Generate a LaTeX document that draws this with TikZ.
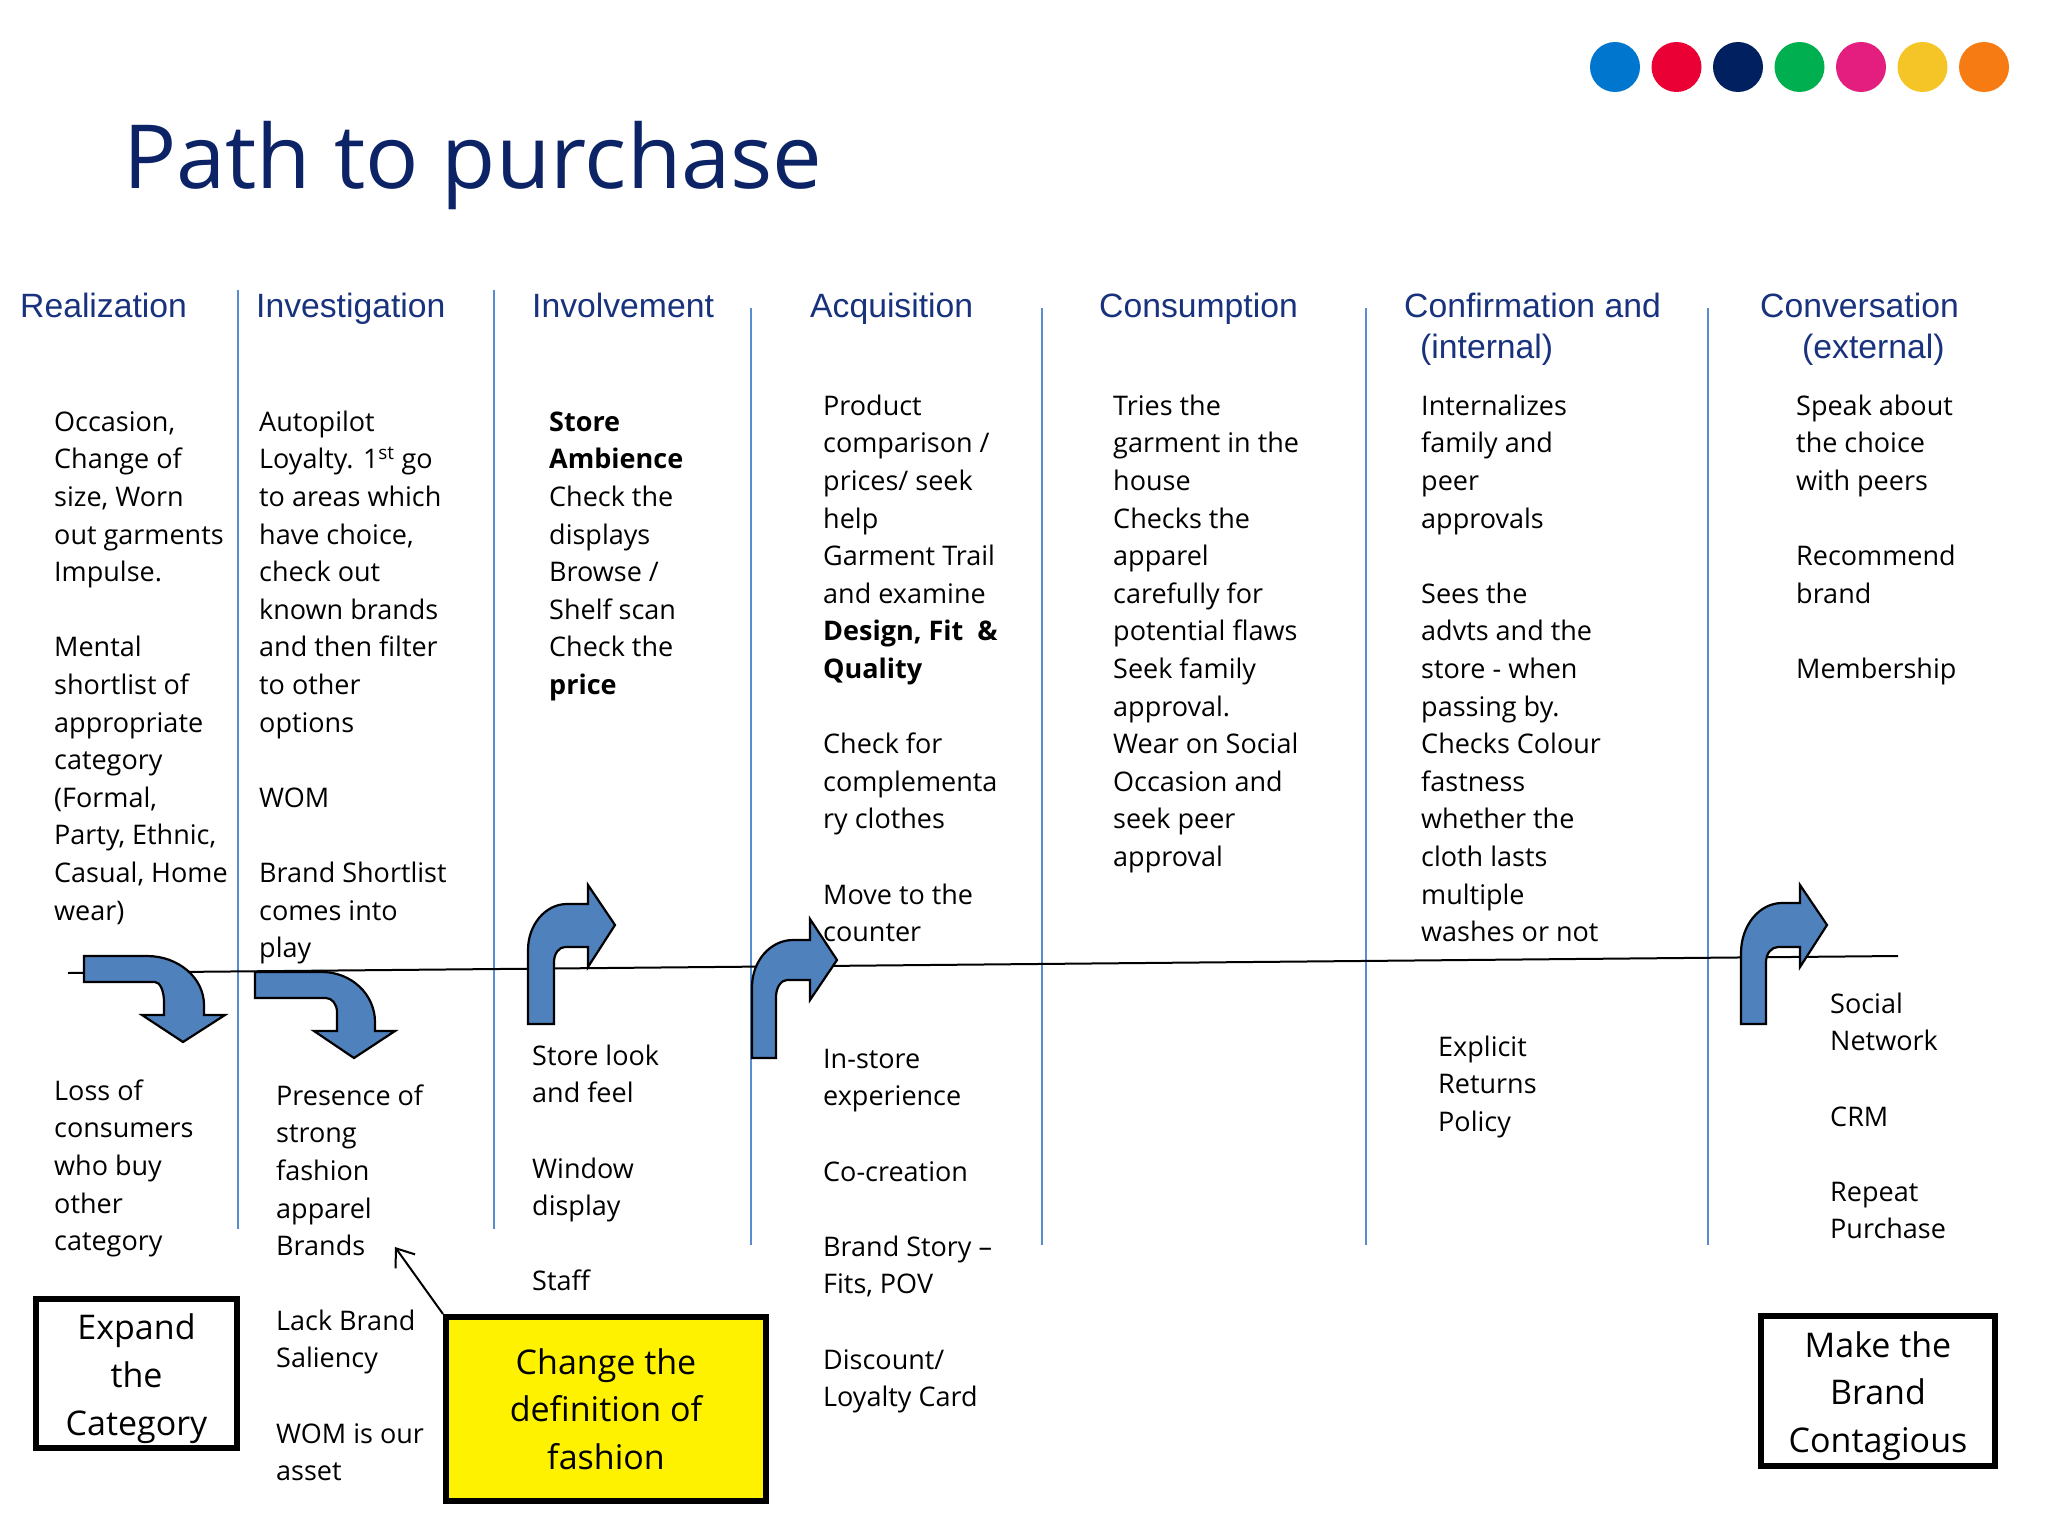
\documentclass[tikz,border=0pt]{standalone}
\usepackage{fontspec}
\setmainfont{Open Sans}
\newfontfamily\hdrfont{Liberation Sans}
\usetikzlibrary{arrows.meta}
\definecolor{titleblue}{RGB}{12,36,102}
\definecolor{hdrblue}{RGB}{25,50,125}
\definecolor{colline}{RGB}{91,139,208}
\definecolor{arrfill}{RGB}{79,129,189}
\definecolor{dA}{RGB}{0,118,206}
\definecolor{dB}{RGB}{234,0,52}
\definecolor{dC}{RGB}{0,32,96}
\definecolor{dD}{RGB}{0,176,80}
\definecolor{dE}{RGB}{228,30,126}
\definecolor{dF}{RGB}{245,197,40}
\definecolor{dG}{RGB}{245,123,18}
\newcommand\tstrut{\rule{0pt}{28pt}}
\newcommand\bstrut{\rule{0pt}{36pt}}
\begin{document}
\begin{tikzpicture}[x=1pt,y=-1pt,
  body/.style={anchor=north west, inner sep=0pt, align=left, font=\fontsize{27}{37.6}\selectfont},
  hdr/.style={anchor=base west, inner sep=0pt, text=hdrblue, font=\hdrfont\fontsize{33.7}{41}\selectfont},
  colsep/.style={draw=colline, line width=2},
  bluearr/.style={fill=arrfill, draw=black, line width=2.2},
  bigbox/.style={draw=black, line width=6, inner sep=0pt, align=center, font=\fontsize{34}{47.6}\selectfont},
  dot/.style={circle, inner sep=0pt, minimum size=50}
]
\useasboundingbox[fill=white] (0,0) rectangle (2048,1536);

% colour dots
\node[dot, fill=dA] (dot1) at (1615,67) {};
\node[dot, fill=dB] (dot2) at (1676.5,67) {};
\node[dot, fill=dC] (dot3) at (1738,67) {};
\node[dot, fill=dD] (dot4) at (1799.5,67) {};
\node[dot, fill=dE] (dot5) at (1861,67) {};
\node[dot, fill=dF] (dot6) at (1922.5,67) {};
\node[dot, fill=dG] (dot7) at (1984,67) {};

% title
\node[anchor=base west, inner sep=0pt, text=titleblue, font=\fontsize{88.5}{100}\selectfont] (title) at (123,188) {Path to purchase};

% headers
\node[hdr] (h1) at (20,317) {Realization};
\node[hdr] (h2) at (256,317) {Investigation};
\node[hdr] (h3) at (532,317) {Involvement};
\node[hdr] (h4) at (810,317) {Acquisition};
\node[hdr] (h5) at (1099,317) {Consumption};
\node[hdr] (h6) at (1404,317) {Confirmation and};
\node[hdr] (h6b) at (1420,358) {(internal)};
\node[hdr] (h7) at (1760,317) {Conversation};
\node[hdr] (h7b) at (1802,358) {(external)};

% column separators
\draw[colsep] (238,290) -- (238,1229);
\draw[colsep] (494,290) -- (494,1229);
\draw[colsep] (751,308) -- (751,1245);
\draw[colsep] (1042,308) -- (1042,1245);
\draw[colsep] (1366,308) -- (1366,1245);
\draw[colsep] (1708,308) -- (1708,1245);

% timeline
\draw[line width=2] (68,973) -- (1898,956);

% upper texts
\node[body] (t1) at (54,403) {\tstrut Occasion,\\Change of\\size, Worn\\out garments\\Impulse.\\[37.6pt]Mental\\shortlist of\\appropriate\\category\\(Formal,\\Party, Ethnic,\\Casual, Home\\wear)};
\node[body] (t2) at (259,403) {\tstrut Autopilot\\Loyalty. 1\textsuperscript{st} go\\to areas which\\have choice,\\check out\\known brands\\and then filter\\to other\\options\\[37.6pt]WOM\\[37.6pt]Brand Shortlist\\comes into\\play};
\node[body] (t3) at (549,403) {\tstrut\textbf{Store}\\\textbf{Ambience}\\Check the\\displays\\Browse /\\Shelf scan\\Check the\\\textbf{price}};
\node[body] (t4) at (823,387) {\tstrut Product\\comparison /\\prices/ seek\\help\\Garment Trail\\and examine\\\textbf{Design, Fit \ \&}\\\textbf{Quality}\\[37.6pt]Check for\\complementa\\ry clothes\\[37.6pt]Move to the\\counter};
\node[body] (t5) at (1113,387) {\tstrut Tries the\\garment in the\\house\\Checks the\\apparel\\carefully for\\potential flaws\\Seek family\\approval.\\Wear on Social\\Occasion and\\seek peer\\approval};
\node[body] (t6) at (1421,387) {\tstrut Internalizes\\family and\\peer\\approvals\\[37.6pt]Sees the\\advts and the\\store - when\\passing by.\\Checks Colour\\fastness\\whether the\\cloth lasts\\multiple\\washes or not};
\node[body] (t7) at (1796,387) {\tstrut Speak about\\the choice\\with peers\\[37.6pt]Recommend\\brand\\[37.6pt]Membership};

% bent arrows
\draw[bluearr] (84,956) -- (147,956) .. controls (178.5,956) and (204,978) .. (204,1005) -- (204,1015) -- (225,1015) -- (183,1042) -- (142,1015) -- (164,1015) -- (164,1002) .. controls (164,991) and (160,982) .. (155,982) -- (84,982) -- cycle;
\draw[bluearr] (255,972) -- (322,972) .. controls (351.3,972) and (375,994.4) .. (375,1022) -- (375,1031) -- (395,1031) -- (354,1058) -- (314,1031) -- (337,1031) -- (337,1012) .. controls (337,1004.3) and (332,998) .. (326,998) -- (255,998) -- cycle;
\draw[bluearr] (528,1024) -- (528,950) .. controls (528,924.6) and (545.5,904) .. (567,904) -- (588,904) -- (588,885) -- (615,925) -- (588,967) -- (588,947) -- (565,947) .. controls (559,947) and (554,953.7) .. (554,962) -- (554,1024) -- cycle;
\draw[bluearr] (752,1058) -- (752,987) .. controls (752,961) and (770.4,940) .. (793,940) -- (810,940) -- (810,919) -- (837,960) -- (810,1000) -- (810,980) -- (787,980) .. controls (781,980) and (776,987.6) .. (776,997) -- (776,1058) -- cycle;
\draw[bluearr] (1741,1024) -- (1741,953) .. controls (1741,925.4) and (1759.4,903) .. (1782,903) -- (1800,903) -- (1800,885) -- (1827,925) -- (1800,967) -- (1800,947) -- (1778,947) .. controls (1771.4,947) and (1766,953.7) .. (1766,962) -- (1766,1024) -- cycle;

% lower texts
\node[body] (b1) at (54,1072) {\tstrut Loss of\\consumers\\who buy\\other\\category};
\node[body] (b2) at (276,1077) {\tstrut Presence of\\strong\\fashion\\apparel\\Brands};
\node[body] (b2b) at (276,1302) {\tstrut Lack Brand\\Saliency\\[37.6pt]WOM is our\\asset};
\node[body] (b3) at (532,1037) {\tstrut Store look\\and feel\\[37.6pt]Window\\display\\[37.6pt]Staff};
\node[body] (b4) at (823,1040) {\tstrut In-store\\experience\\[37.6pt]Co-creation\\[37.6pt]Brand Story \textendash\\Fits, POV\\[37.6pt]Discount/\\Loyalty Card};
\node[body] (b6) at (1438,1028) {\tstrut Explicit\\Returns\\Policy};
\node[body] (b7) at (1830,985) {\tstrut Social\\Network\\[37.6pt]CRM\\[37.6pt]Repeat\\Purchase};

% boxes
\node[bigbox, minimum width=201, minimum height=149] (expand) at (136.5,1373.5) {\bstrut Expand\\the\\Category};
\node[bigbox, fill=yellow, minimum width=320, minimum height=184] (change) at (606,1409) {Change the\\definition of\\fashion};
\node[bigbox, minimum width=234, minimum height=150] (make) at (1878,1391) {\bstrut Make the\\Brand\\Contagious};

% pointer arrow
\coordinate (brandtip) at (395,1247);
\draw[line width=2, -{Straight Barb[length=16,width=24]}] (change.north west) -- (brandtip);
\end{tikzpicture}
\end{document}
